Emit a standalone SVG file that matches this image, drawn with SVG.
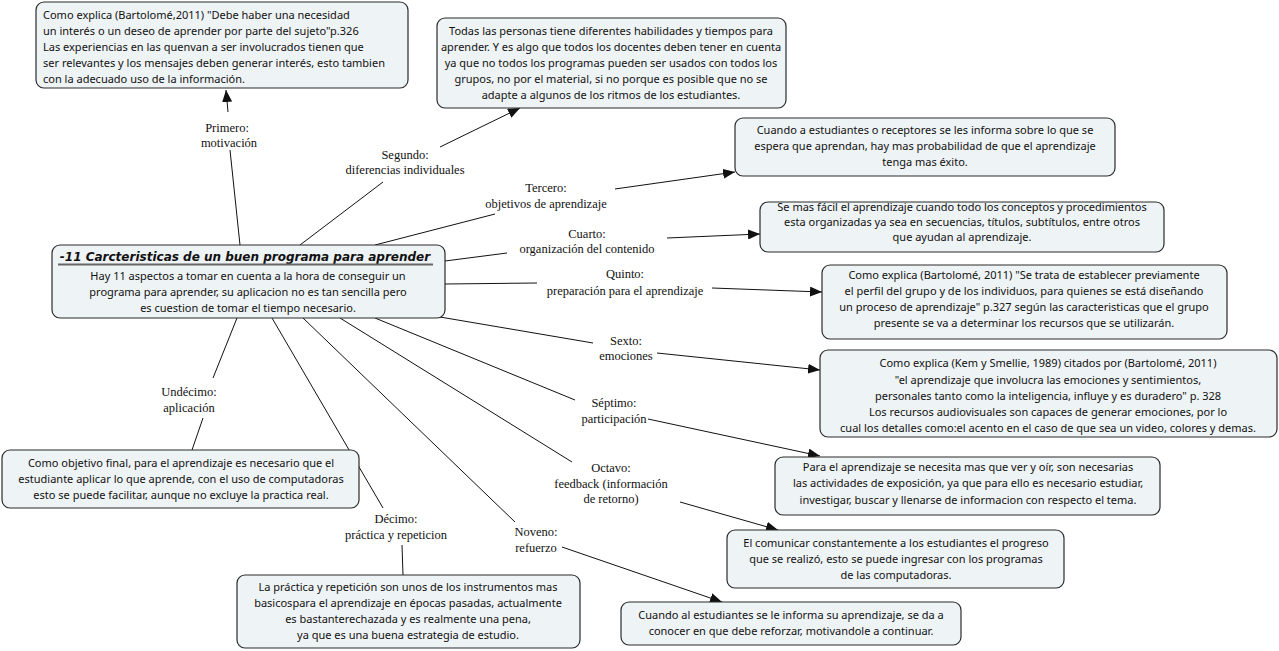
<svg xmlns="http://www.w3.org/2000/svg" width="1279" height="651" viewBox="0 0 1279 651">
<style>
.box{fill:#eef3f5;stroke:#2b2b2b;stroke-width:1.2}
.t{font-family:"Noto Sans","DejaVu Sans",sans-serif;font-size:11px;fill:#111}
.c{text-anchor:middle}
.lab{font-family:"Liberation Serif",serif;font-size:12.5px;fill:#111;text-anchor:middle}
.ln{stroke:#111;stroke-width:1;fill:none}
.ttl{font-family:"DejaVu Sans",sans-serif;font-size:12px;font-weight:bold;font-style:italic;fill:#111;text-anchor:middle}
</style>
<defs>
<marker id="ah" viewBox="0 0 12 10" refX="12" refY="5" markerWidth="12" markerHeight="10" markerUnits="userSpaceOnUse" orient="auto">
<path d="M0,0 L12,5 L0,10 z" fill="#111"/>
</marker>
</defs>
<rect width="1279" height="651" fill="#ffffff"/>
<g id="connectors">
<polyline class="ln" points="240,245 230,150"/>
<line class="ln" x1="228" y1="112" x2="226" y2="90" marker-end="url(#ah)"/>
<polyline class="ln" points="300,245 383,182"/>
<line class="ln" x1="440" y1="147" x2="520" y2="108" marker-end="url(#ah)"/>
<polyline class="ln" points="375,245 495,214"/>
<line class="ln" x1="615" y1="189" x2="735" y2="172" marker-end="url(#ah)"/>
<polyline class="ln" points="445,261 507,253"/>
<line class="ln" x1="667" y1="238" x2="760" y2="234" marker-end="url(#ah)"/>
<polyline class="ln" points="445,284 537,283"/>
<line class="ln" x1="712" y1="288" x2="822" y2="292" marker-end="url(#ah)"/>
<polyline class="ln" points="440,317 593,343"/>
<line class="ln" x1="657" y1="353" x2="820" y2="370" marker-end="url(#ah)"/>
<polyline class="ln" points="375,318 575,400"/>
<line class="ln" x1="648" y1="419" x2="820" y2="456" marker-end="url(#ah)"/>
<polyline class="ln" points="340,318 572,462"/>
<line class="ln" x1="680" y1="502" x2="778" y2="530" marker-end="url(#ah)"/>
<polyline class="ln" points="303,318 515,522"/>
<line class="ln" x1="562" y1="547" x2="722" y2="602" marker-end="url(#ah)"/>
<polyline class="ln" points="272,318 383,508"/>
<line class="ln" x1="402" y1="545" x2="403" y2="575"/>
<polyline class="ln" points="237,318 213,378"/>
<line class="ln" x1="203" y1="418" x2="192" y2="450"/>
</g>
<g id="labels">
<text class="lab" x="227" y="132">Primero:</text><text class="lab" x="229" y="147">motivación</text>
<text class="lab" x="405" y="159">Segundo:</text><text class="lab" x="405" y="174">diferencias individuales</text>
<text class="lab" x="546" y="192">Tercero:</text><text class="lab" x="546" y="208">objetivos de aprendizaje</text>
<text class="lab" x="587" y="238">Cuarto:</text><text class="lab" x="587" y="253">organización del contenido</text>
<text class="lab" x="625" y="278">Quinto:</text><text class="lab" x="625" y="295">preparación para el aprendizaje</text>
<text class="lab" x="626" y="345">Sexto:</text><text class="lab" x="626" y="360">emociones</text>
<text class="lab" x="614" y="407">Séptimo:</text><text class="lab" x="614" y="423">participación</text>
<text class="lab" x="611" y="472">Octavo:</text><text class="lab" x="611" y="488">feedback (información</text><text class="lab" x="611" y="503">de retorno)</text>
<text class="lab" x="536" y="536">Noveno:</text><text class="lab" x="536" y="552">refuerzo</text>
<text class="lab" x="396" y="523">Décimo:</text><text class="lab" x="396" y="539">práctica y repeticion</text>
<text class="lab" x="189" y="396">Undécimo:</text><text class="lab" x="189" y="412">aplicación</text>
</g>
<g id="central">
<rect class="box" x="52" y="245" width="393" height="73" rx="8"/>
<text class="ttl" x="245" y="261">-11 Carcteristicas de un buen programa para aprender</text>
<line x1="58" y1="264.5" x2="433" y2="264.5" stroke="#666" stroke-width="2"/>
<text class="t c" x="248" y="280">Hay 11 aspectos a tomar en cuenta a la hora de conseguir un</text>
<text class="t c" x="248" y="296">programa para aprender, su aplicacion no es tan sencilla pero</text>
<text class="t c" x="248" y="312">es cuestion de tomar el tiempo necesario.</text>
</g>
<g id="n1">
<rect class="box" x="36" y="2" width="372" height="86" rx="8"/>
<text class="t" x="43" y="19">Como explica (Bartolomé,2011) "Debe haber una necesidad</text>
<text class="t" x="43" y="35">un interés o un deseo de aprender por parte del sujeto"p.326</text>
<text class="t" x="43" y="51">Las experiencias en las quenvan a ser involucrados tienen que</text>
<text class="t" x="43" y="67">ser relevantes y los mensajes deben generar interés, esto tambien</text>
<text class="t" x="43" y="83">con la adecuado uso de la información.</text>
</g>
<g id="n2">
<rect class="box" x="437" y="18" width="349" height="90" rx="8"/>
<text class="t c" x="611" y="35">Todas las personas tiene diferentes habilidades y tiempos para</text>
<text class="t c" x="611" y="51">aprender. Y es algo que todos los docentes deben tener en cuenta</text>
<text class="t c" x="611" y="67">ya que no todos los programas pueden ser usados con todos los</text>
<text class="t c" x="611" y="83">grupos, no por el material, si no porque es posible que no se</text>
<text class="t c" x="611" y="99">adapte a algunos de los ritmos de los estudiantes.</text>
</g>
<g id="n3">
<rect class="box" x="735" y="118" width="380" height="58" rx="8"/>
<text class="t c" x="925" y="134">Cuando a estudiantes o receptores se les informa sobre lo que se</text>
<text class="t c" x="925" y="150">espera que aprendan, hay mas probabilidad de que el aprendizaje</text>
<text class="t c" x="925" y="166">tenga mas éxito.</text>
</g>
<g id="n4">
<rect class="box" x="760" y="202" width="404" height="50" rx="8"/>
<text class="t c" x="962" y="211">Se mas fácil el aprendizaje cuando todo los conceptos y procedimientos</text>
<text class="t c" x="962" y="226">esta organizadas ya sea en secuencias, títulos, subtítulos, entre otros</text>
<text class="t c" x="962" y="241">que ayudan al aprendizaje.</text>
</g>
<g id="n5">
<rect class="box" x="822" y="265" width="405" height="74" rx="8"/>
<text class="t c" x="1024" y="279">Como explica (Bartolomé, 2011) "Se trata de establecer previamente</text>
<text class="t c" x="1024" y="295">el perfil del grupo y de los individuos, para quienes se está diseñando</text>
<text class="t c" x="1024" y="311">un proceso de aprendizaje" p.327 según las caracteristicas que el grupo</text>
<text class="t c" x="1024" y="327">presente se va a determinar los recursos que se utilizarán.</text>
</g>
<g id="n6">
<rect class="box" x="820" y="350" width="457" height="87" rx="8"/>
<text class="t c" x="1048" y="367">Como explica (Kem y Smellie, 1989) citados por (Bartolomé, 2011)</text>
<text class="t c" x="1048" y="384">"el aprendizaje que involucra las emociones y sentimientos,</text>
<text class="t c" x="1048" y="400">personales tanto como la inteligencia, influye y es duradero" p. 328</text>
<text class="t c" x="1048" y="416">Los recursos audiovisuales son capaces de generar emociones, por lo</text>
<text class="t c" x="1048" y="432">cual los detalles como:el acento en el caso de que sea un video, colores y demas.</text>
</g>
<g id="n7">
<rect class="box" x="775" y="457" width="385" height="58" rx="8"/>
<text class="t c" x="968" y="471">Para el aprendizaje se necesita mas que ver y oír, son necesarias</text>
<text class="t c" x="968" y="487">las actividades de exposición, ya que para ello es necesario estudiar,</text>
<text class="t c" x="968" y="504">investigar, buscar y llenarse de informacion con respecto el tema.</text>
</g>
<g id="n8">
<rect class="box" x="727" y="530" width="337" height="58" rx="8"/>
<text class="t c" x="896" y="547">El comunicar constantemente a los estudiantes el progreso</text>
<text class="t c" x="896" y="563">que se realizó, esto se puede ingresar con los programas</text>
<text class="t c" x="896" y="579">de las computadoras.</text>
</g>
<g id="n9">
<rect class="box" x="621" y="602" width="340" height="43" rx="8"/>
<text class="t c" x="791" y="619">Cuando al estudiantes se le informa su aprendizaje, se da a</text>
<text class="t c" x="791" y="635">conocer en que debe reforzar, motivandole a continuar.</text>
</g>
<g id="n10">
<rect class="box" x="237" y="575" width="343" height="73" rx="8"/>
<text class="t c" x="408" y="591">La práctica y repetición son unos de los instrumentos mas</text>
<text class="t c" x="408" y="607">basicospara el aprendizaje en épocas pasadas, actualmente</text>
<text class="t c" x="408" y="623">es bastanterechazada y es realmente una pena,</text>
<text class="t c" x="408" y="639">ya que es una buena estrategia de estudio.</text>
</g>
<g id="n11">
<rect class="box" x="2" y="450" width="357" height="58" rx="8"/>
<text class="t c" x="181" y="467">Como objetivo final, para el aprendizaje es necesario que el</text>
<text class="t c" x="181" y="483">estudiante aplicar lo que aprende, con el uso de computadoras</text>
<text class="t c" x="181" y="499">esto se puede facilitar, aunque no excluye la practica real.</text>
</g>
</svg>
